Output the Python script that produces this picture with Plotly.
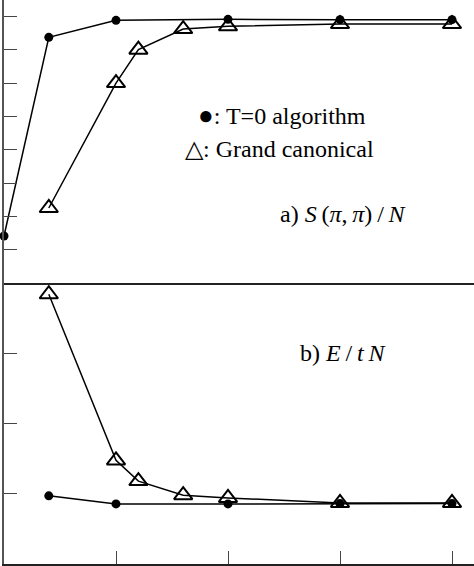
import plotly.graph_objects as go

# top panel: S(pi,pi)/N
x_t0_top = [0, 0.4, 1, 2, 3, 4]
s_t0 = [1.41, 7.37, 7.88, 7.91, 7.9, 7.9]
x_gc = [0.4, 1, 1.2, 1.6, 2, 3, 4]
s_gc = [2.25, 6.0, 7.0, 7.62, 7.7, 7.77, 7.77]

# bottom panel: E/tN
x_t0_bot = [0.4, 1, 2, 3, 4]
e_t0 = [0.97, 0.855, 0.855, 0.86, 0.86]
e_gc = [3.84, 1.475, 1.18, 0.98, 0.94, 0.87, 0.87]

top_ticks = [1, 2, 3, 4, 5, 6, 7, 8]
bot_ticks = [1, 2, 3]
x_ticks = [1, 2, 3, 4]

FONT = "Liberation Serif"
line = dict(color="black", width=1.5)
tri = dict(symbol="triangle-up-open", size=16, color="black", line=dict(width=2, color="black"))
dot = dict(symbol="circle", size=9, color="black")

fig = go.Figure()

fig.add_trace(go.Scatter(x=x_gc, y=s_gc, mode="lines+markers", line=line, marker=tri,
                         xaxis="x", yaxis="y", cliponaxis=False))
fig.add_trace(go.Scatter(x=x_t0_top, y=s_t0, mode="lines+markers", line=line, marker=dot,
                         xaxis="x", yaxis="y", cliponaxis=False))
fig.add_trace(go.Scatter(x=x_gc, y=e_gc, mode="lines+markers", line=line, marker=tri,
                         xaxis="x2", yaxis="y2", cliponaxis=False))
fig.add_trace(go.Scatter(x=x_t0_bot, y=e_t0, mode="lines+markers", line=line, marker=dot,
                         xaxis="x2", yaxis="y2", cliponaxis=False))

split = 1 - 283 / 564
ax_common = dict(showgrid=False, zeroline=False, showticklabels=False)

fig.update_layout(
    width=474, height=566,
    margin=dict(l=4, r=0, t=0, b=2),
    paper_bgcolor="white", plot_bgcolor="white",
    showlegend=False,
    font=dict(family=FONT, size=24, color="black"),
    xaxis=dict(**ax_common, range=[0, 470 / 112], domain=[0, 1], anchor="y",
               showline=True, linecolor="#222", linewidth=1.5, ticks=""),
    yaxis=dict(**ax_common, range=[0, 283 / 33.33], domain=[split, 1], anchor="x",
               showline=True, linecolor="#555", linewidth=1.5,
               tickvals=top_ticks, ticks="inside", ticklen=13, tickcolor="#444", tickwidth=1.2),
    xaxis2=dict(**ax_common, range=[0, 470 / 112], domain=[0, 1], anchor="y2",
                showline=True, linecolor="#222", linewidth=1.5,
                tickvals=x_ticks, ticks="inside", ticklen=13, tickcolor="#444", tickwidth=1.2),
    yaxis2=dict(**ax_common, range=[0, 282 / 70.5], domain=[0, split], anchor="x2",
                showline=True, linecolor="#555", linewidth=1.5,
                tickvals=bot_ticks, ticks="inside", ticklen=13, tickcolor="#444", tickwidth=1.2),
)

fig.add_annotation(xref="paper", yref="paper", x=194 / 474, y=1 - 116 / 566,
                   xanchor="left", yanchor="middle", showarrow=False,
                   text="<span style='font-size:26px'>●</span>: T=0 algorithm")
fig.add_annotation(xref="paper", yref="paper", x=181 / 474, y=1 - 150 / 566,
                   xanchor="left", yanchor="middle", showarrow=False,
                   text="△: Grand canonical")
fig.add_annotation(xref="paper", yref="paper", x=276 / 474, y=1 - 215 / 566,
                   xanchor="left", yanchor="middle", showarrow=False,
                   text="a) <i>S</i>\u2009(<i>π</i>,\u2009<i>π</i>)\u2009/\u2009<i>N</i>")
fig.add_annotation(xref="paper", yref="paper", x=297 / 474, y=1 - 354 / 566,
                   xanchor="left", yanchor="middle", showarrow=False,
                   text="b) <i>E</i>\u2009/\u2009<i>t</i>\u2009<i>N</i>")

# drop the browser's default body margin so the figure sits at the window corner
fig.write_html("out.html", config={"displayModeBar": False},
               post_script="document.body.style.margin='0';")
